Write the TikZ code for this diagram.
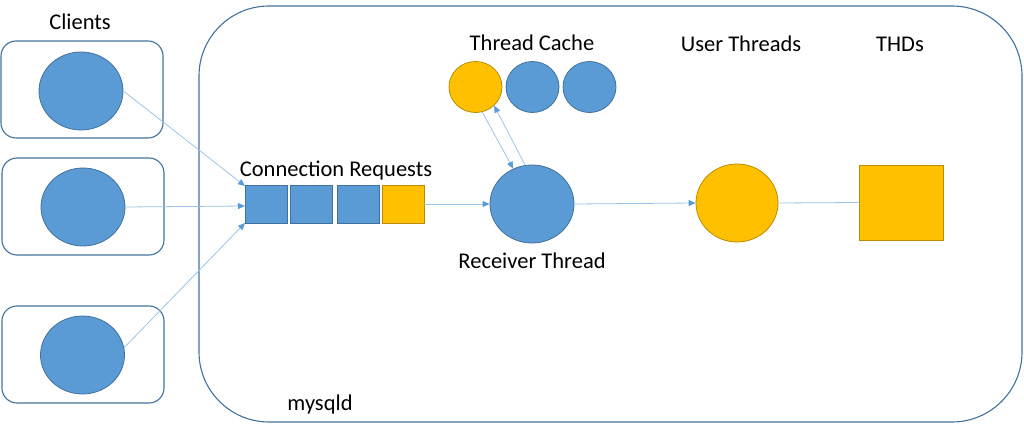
\documentclass[tikz,border=0pt]{standalone}
\usepackage{fontspec}
\setmainfont{Carlito}
\usetikzlibrary{shapes.geometric,arrows.meta}
\definecolor{bfill}{HTML}{5B9BD5}
\definecolor{bline}{HTML}{41719C}
\definecolor{yfill}{HTML}{FFC000}
\definecolor{yline}{HTML}{BC8C00}
\definecolor{conn}{HTML}{9DC3E6}
\definecolor{tipc}{HTML}{5B9BD5}
\begin{document}
\begin{tikzpicture}[x=1pt,y=-1pt,
  container/.style={draw=bline,line width=1.1pt},
  blueell/.style={ellipse,draw=bline,fill=bfill,line width=0.8pt,inner sep=0pt},
  yellowell/.style={ellipse,draw=yline,fill=yfill,line width=0.8pt,inner sep=0pt},
  bluesq/.style={rectangle,draw=bline,fill=bfill,line width=0.8pt,inner sep=0pt,minimum width=42pt,minimum height=38pt},
  yellowsq/.style={rectangle,draw=yline,fill=yfill,line width=0.8pt,inner sep=0pt},
  lbl/.style={font=\fontsize{22.5}{26}\selectfont,inner sep=0pt},
  arr/.style={draw=conn,line width=0.8pt,-{Triangle[length=7pt,width=6pt,color=tipc]}},
  plain/.style={draw=conn,line width=0.8pt}
]
\useasboundingbox (0,0) rectangle (1024,427);
% client boxes
\draw[container,rounded corners=15pt] (1,41) rectangle (163,138);
\draw[container,rounded corners=15pt] (2,158) rectangle (164,255);
\draw[container,rounded corners=15pt] (2,306) rectangle (164,403);
% mysqld container
\draw[container,rounded corners=70pt] (199,6) rectangle (1022,422);
% labels
\node[lbl] (lclients) at (80,22) {Clients};
\node[lbl] (lmysqld) at (320,404) {mysqld};
\node[lbl] (lconn) at (336,171) {Connection Requests};
\node[lbl] (lcache) at (532,43) {Thread Cache};
\node[lbl] (lrecv) at (532,261) {Receiver Thread};
\node[lbl] (luser) at (741,44) {User Threads};
\node[lbl] (lthd) at (900,44) {THDs};
% client circles
\node[blueell,minimum width=84pt,minimum height=78pt] (c1) at (81,91) {};
\node[blueell,minimum width=84pt,minimum height=78pt] (c2) at (83,207) {};
\node[blueell,minimum width=84pt,minimum height=78pt] (c3) at (82.5,355) {};
% queue
\node[bluesq] (q1) at (266,204) {};
\node[bluesq] (q2) at (311.5,204) {};
\node[bluesq] (q3) at (358,204) {};
\node[yellowsq,minimum width=42pt,minimum height=38pt] (q4) at (403,204) {};
% receiver
\node[blueell,minimum width=84pt,minimum height=78pt] (recv) at (532,204) {};
% thread cache
\node[yellowell,minimum width=53pt,minimum height=51pt] (tc1) at (475.5,87) {};
\node[blueell,minimum width=53pt,minimum height=51pt] (tc2) at (532.5,87) {};
\node[blueell,minimum width=53pt,minimum height=51pt] (tc3) at (589.5,87) {};
% user thread
\node[yellowell,minimum width=82pt,minimum height=78pt] (ut) at (737,203) {};
% THD
\node[yellowsq,minimum width=84pt,minimum height=75pt] (thd) at (901,202.5) {};
% connectors
\coordinate (q1a) at (245,186);
\coordinate (q1b) at (245,206);
\coordinate (q1c) at (245,223);
\draw[arr] (c1.east) -- (q1a);
\draw[arr] (c2.east) -- (q1b);
\draw[arr] (c3.10) -- (q1c);
\draw[arr] (q4.east) -- (recv.west);
\draw[arr] (tc1.-75) -- (recv.118);
\draw[arr] (recv.100) -- (tc1.-45);
\draw[arr] (recv.east) -- (ut.west);
\draw[plain] (ut.east) -- (thd.west);
\end{tikzpicture}
\end{document}
